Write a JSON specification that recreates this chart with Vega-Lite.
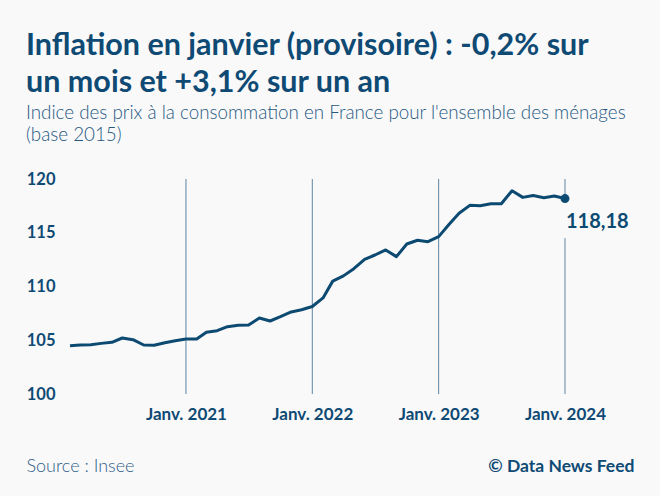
{
  "$schema": "https://vega.github.io/schema/vega-lite/v6.json",
  "width": 495,
  "height": 215,
  "autosize": {"type": "none"},
  "padding": {"left": 70, "top": 179, "right": 95, "bottom": 102},
  "background": "#f9f9f9",
  "config": {
    "view": {"stroke": null},
    "locale": {"number": {"decimal": ",", "thousands": " ", "grouping": [3], "currency": ["", " €"]}}
  },
  "title": {
    "text": ["Inflation en janvier (provisoire) : -0,2% sur", "un mois et +3,1% sur un an"],
    "subtitle": ["Indice des prix à la consommation en France pour l'ensemble des ménages", "(base 2015)"],
    "anchor": "start",
    "frame": "group",
    "dx": -44,
    "offset": 26,
    "font": "Lato",
    "fontSize": 30.5,
    "fontWeight": "bold",
    "color": "#0e4a74",
    "lineHeight": 37,
    "subtitleFont": "Lato",
    "subtitleFontSize": 18.8,
    "subtitleFontWeight": 300,
    "subtitleColor": "#265882",
    "subtitleLineHeight": 22,
    "subtitlePadding": 6
  },
  "datasets": {
    "cpi": [
      {"date": "2020-02-01", "value": 104.49},
      {"date": "2020-03-01", "value": 104.56},
      {"date": "2020-04-01", "value": 104.59},
      {"date": "2020-05-01", "value": 104.71},
      {"date": "2020-06-01", "value": 104.81},
      {"date": "2020-07-01", "value": 105.21},
      {"date": "2020-08-01", "value": 105.05},
      {"date": "2020-09-01", "value": 104.56},
      {"date": "2020-10-01", "value": 104.53},
      {"date": "2020-11-01", "value": 104.77},
      {"date": "2020-12-01", "value": 104.96},
      {"date": "2021-01-01", "value": 105.12},
      {"date": "2021-02-01", "value": 105.12},
      {"date": "2021-03-01", "value": 105.74},
      {"date": "2021-04-01", "value": 105.89},
      {"date": "2021-05-01", "value": 106.26},
      {"date": "2021-06-01", "value": 106.39},
      {"date": "2021-07-01", "value": 106.42},
      {"date": "2021-08-01", "value": 107.07},
      {"date": "2021-09-01", "value": 106.79},
      {"date": "2021-10-01", "value": 107.19},
      {"date": "2021-11-01", "value": 107.63},
      {"date": "2021-12-01", "value": 107.84},
      {"date": "2022-01-01", "value": 108.14},
      {"date": "2022-02-01", "value": 108.94},
      {"date": "2022-03-01", "value": 110.5},
      {"date": "2022-04-01", "value": 110.99},
      {"date": "2022-05-01", "value": 111.66},
      {"date": "2022-06-01", "value": 112.53},
      {"date": "2022-07-01", "value": 112.93},
      {"date": "2022-08-01", "value": 113.4},
      {"date": "2022-09-01", "value": 112.78},
      {"date": "2022-10-01", "value": 113.95},
      {"date": "2022-11-01", "value": 114.3},
      {"date": "2022-12-01", "value": 114.17},
      {"date": "2023-01-01", "value": 114.64},
      {"date": "2023-02-01", "value": 115.81},
      {"date": "2023-03-01", "value": 116.81},
      {"date": "2023-04-01", "value": 117.55},
      {"date": "2023-05-01", "value": 117.52},
      {"date": "2023-06-01", "value": 117.7},
      {"date": "2023-07-01", "value": 117.7},
      {"date": "2023-08-01", "value": 118.91},
      {"date": "2023-09-01", "value": 118.29},
      {"date": "2023-10-01", "value": 118.47},
      {"date": "2023-11-01", "value": 118.26},
      {"date": "2023-12-01", "value": 118.42},
      {"date": "2024-01-01", "value": 118.18}
    ],
    "grid": [
      {"date": "2021-01-01", "value": 100, "value2": 120},
      {"date": "2022-01-01", "value": 100, "value2": 120},
      {"date": "2023-01-01", "value": 100, "value2": 120},
      {"date": "2024-01-01", "value": 100, "value2": 114.5},
      {"date": "2024-01-01", "value": 118.18, "value2": 120}
    ]
  },
  "encoding": {
    "x": {
      "field": "date",
      "type": "temporal",
      "scale": {
        "type": "utc",
        "domain": [
          {"year": 2020, "month": 2, "date": 1, "utc": true},
          {"year": 2024, "month": 1, "date": 1, "utc": true}
        ]
      },
      "axis": {
        "values": [
          {"year": 2021, "month": 1, "date": 1, "utc": true},
          {"year": 2022, "month": 1, "date": 1, "utc": true},
          {"year": 2023, "month": 1, "date": 1, "utc": true},
          {"year": 2024, "month": 1, "date": 1, "utc": true}
        ],
        "format": "Janv. %Y",
        "labelFont": "Lato",
        "labelFontWeight": "bold",
        "labelFontSize": 17,
        "labelColor": "#0e4a74",
        "labelPadding": 12,
        "labelFlush": false,
        "labelOverlap": false,
        "domain": false,
        "ticks": false,
        "grid": false,
        "title": "Source : Insee",
        "titleFont": "Lato",
        "titleFontWeight": 300,
        "titleFontSize": 18,
        "titleColor": "#2f6088",
        "titleAnchor": "start",
        "titleAlign": "left",
        "titleBaseline": "alphabetic",
        "titleX": -44,
        "titleY": 77
      }
    },
    "y": {
      "field": "value",
      "type": "quantitative",
      "scale": {"domain": [100, 120], "nice": false, "zero": false},
      "axis": {
        "values": [100, 105, 110, 115, 120],
        "labelFont": "Lato",
        "labelFontWeight": "bold",
        "labelFontSize": 16.5,
        "labelColor": "#0e4a74",
        "labelPadding": 15,
        "domain": false,
        "ticks": false,
        "grid": false,
        "title": "© Data News Feed",
        "titleFont": "Lato",
        "titleFontWeight": "bold",
        "titleFontSize": 17.5,
        "titleColor": "#0e4a74",
        "titleAngle": 0,
        "titleAlign": "right",
        "titleBaseline": "alphabetic",
        "titleX": 564,
        "titleY": 292
      }
    }
  },
  "layer": [
    {
      "data": {"name": "grid"},
      "mark": {"type": "rule", "stroke": "#5e85a5", "strokeWidth": 1},
      "encoding": {"y2": {"field": "value2"}}
    },
    {
      "data": {"name": "cpi"},
      "mark": {"type": "line", "stroke": "#0d4a72", "strokeWidth": 3, "strokeJoin": "round"}
    },
    {
      "data": {"name": "cpi"},
      "transform": [{"filter": "utcyear(datum.date) == 2024"}],
      "mark": {"type": "circle", "size": 80, "color": "#0d4a72", "opacity": 1}
    },
    {
      "data": {"name": "cpi"},
      "transform": [{"filter": "utcyear(datum.date) == 2024"}],
      "mark": {"type": "text", "align": "left", "baseline": "middle", "dx": 1, "dy": 23, "font": "Lato", "fontWeight": "bold", "fontSize": 20, "color": "#0d4a72"},
      "encoding": {"text": {"field": "value", "type": "quantitative", "format": ".2f"}}
    }
  ]
}
